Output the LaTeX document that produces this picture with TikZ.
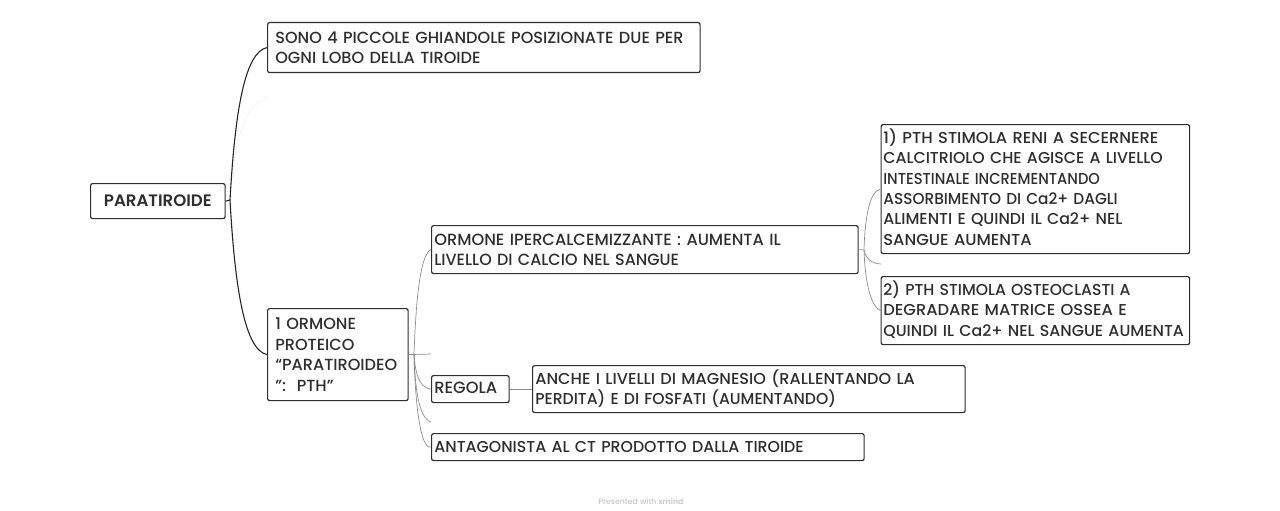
\documentclass[tikz,border=0pt]{standalone}
\usepackage{fontspec}
\usepackage{graphicx}
\setmainfont{Poppins}[Ligatures=TeX,UprightFont=* Medium,BoldFont=* SemiBold]
\newcommand{\fitx}[2]{\scalebox{#1}[1]{#2}}
\newcommand{\lift}[1]{\rule[-#1pt]{0pt}{1pt}}
\begin{document}
\begin{tikzpicture}[x=1pt,y=-1pt,
  topic/.style={draw=black!82,line width=1.2pt,rounded corners=2pt,anchor=north west,inner sep=0pt,align=left,text=black!82,font=\fontsize{15.8}{20.4}\selectfont},
  dark/.style={draw=black!85,line width=1.1pt},
  soft/.style={draw=black!45,line width=0.7pt},
  faint/.style={draw=black!6,line width=0.6pt}]
\useasboundingbox (0,0) rectangle (1280,511);
\node[topic,minimum width=134.5pt,minimum height=35pt,align=center,font=\fontsize{16.6}{20.4}\selectfont\bfseries] (root) at (90,183) {PARATIROIDE};
\node[topic,minimum width=432.5pt,minimum height=50pt,text width=417pt,font=\fontsize{16.1}{20.4}\selectfont] (a) at (267,22) {SONO 4 PICCOLE GHIANDOLE POSIZIONATE DUE PER\\OGNI LOBO DELLA TIROIDE};
\node[topic,minimum width=140.5pt,minimum height=92pt,text width=125pt,font=\fontsize{16.1}{20.4}\selectfont] (b) at (267,308) {1 ORMONE\\PROTEICO\\“PARATIROIDEO\\”:\ \ PTH”};
\node[topic,minimum width=426.5pt,minimum height=48pt,text width=421pt,font=\fontsize{16.2}{20.4}\selectfont] (c) at (431,225) {ORMONE IPERCALCEMIZZANTE : AUMENTA IL\\\fitx{0.985}{LIVELLO DI CALCIO NEL SANGUE}};
\node[topic,minimum width=308.5pt,minimum height=129pt,text width=304pt] (d) at (880.5,124) {\fitx{1.03}{1) PTH STIMOLA RENI A SECERNERE}\\CALCITRIOLO CHE AGISCE A LIVELLO\\\fitx{0.93}{INTESTINALE INCREMENTANDO}\\\fitx{0.97}{ASSORBIMENTO DI Ca2+ DAGLI}\\ALIMENTI E QUINDI IL Ca2+ NEL\\\fitx{1.03}{SANGUE AUMENTA}\lift{4.2}};
\node[topic,minimum width=308.5pt,minimum height=68pt,text width=304pt] (e) at (880.5,276) {\fitx{0.99}{2) PTH STIMOLA OSTEOCLASTI A}\\\fitx{1.03}{DEGRADARE MATRICE OSSEA E}\\QUINDI IL Ca2+ NEL SANGUE AUMENTA\lift{4.2}};
\node[topic,minimum width=77.5pt,minimum height=27pt,text width=72pt,font=\fontsize{16.3}{20.4}\selectfont] (f) at (431,375) {REGOLA\lift{2.2}};
\node[topic,minimum width=432.5pt,minimum height=47pt,text width=427pt] (g) at (532,365) {\fitx{1.02}{ANCHE I LIVELLI DI MAGNESIO (RALLENTANDO LA}\\\fitx{0.99}{PERDITA) E DI FOSFATI (AUMENTANDO)}\lift{4.2}};
\node[topic,minimum width=432.5pt,minimum height=27pt,text width=427pt] (h) at (431,433) {ANTAGONISTA AL CT PRODOTTO DALLA TIROIDE};
\coordinate (rj) at (230,200);
\coordinate (bj) at (414,354);
\coordinate (cj) at (864,250);
\coordinate (e1) at (431,354);
\coordinate (e2) at (431,422);
\coordinate (e3) at (881,264);
\coordinate (e4) at (267,98);
\draw[dark] (root.east) -- (rj);
\draw[faint] (rj) .. controls (234,140) and (245,105) .. (e4);
\draw[dark] (rj) .. controls (235,110) and (245,52) .. (a.west);
\draw[dark] (rj) .. controls (235,290) and (245,350) .. (b.west);
\draw[soft] (b.east) -- (e1);
\draw[soft] (bj) .. controls (416,300) and (420,255) .. (c.west);
\draw[soft] (bj) .. controls (415,370) and (418,388) .. (f.west);
\draw[soft] (bj) .. controls (415,385) and (418,418) .. (e2);
\draw[soft] (bj) .. controls (415,400) and (420,450) .. (h.west);
\draw[soft] (f.east) -- (g.west);
\draw[soft] (c.east) -- (cj);
\draw[soft] (cj) .. controls (865,215) and (870,191) .. (d.west);
\draw[soft] (cj) .. controls (865,256) and (870,264) .. (e3);
\draw[soft] (cj) .. controls (865,280) and (870,306) .. (e.west);
\node[anchor=center,text=black!22,font=\fontsize{7.8}{9}\selectfont,inner sep=0pt] (w) at (641,501) {Presented with \textbf{xmind}};
\end{tikzpicture}
\end{document}
